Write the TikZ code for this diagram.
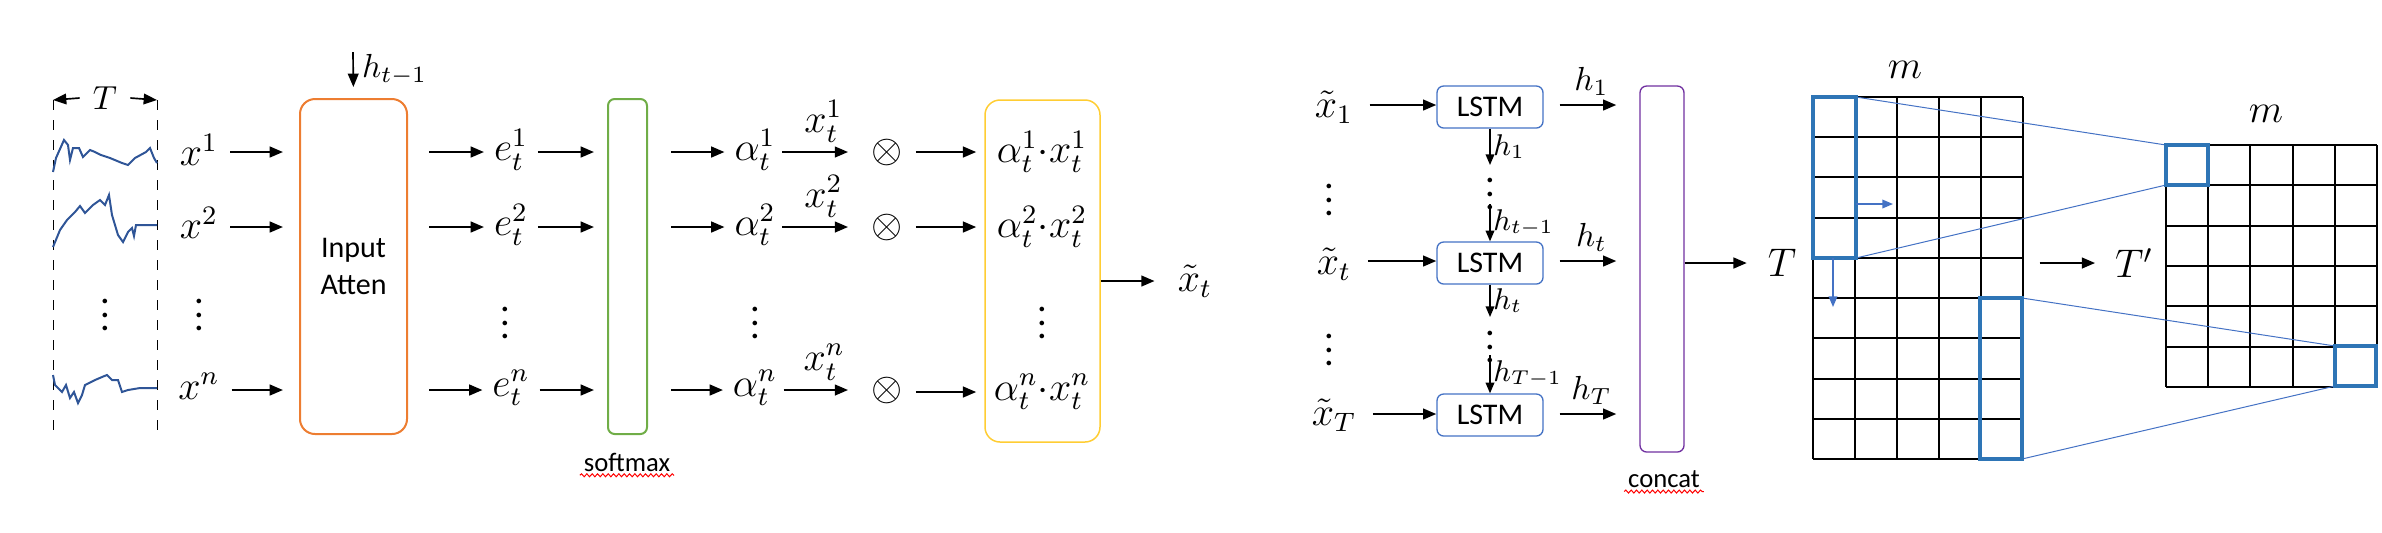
\documentclass[tikz,border=0pt]{standalone}
\usepackage{fontspec}
\setmainfont{Carlito}
\usepackage{amsmath}
\usetikzlibrary{arrows.meta,decorations.pathmorphing}
\definecolor{wave}{HTML}{2F5597}
\definecolor{oran}{HTML}{ED7D31}
\definecolor{grn}{HTML}{70AD47}
\definecolor{yel}{HTML}{FFC000}
\definecolor{blu}{HTML}{4472C4}
\definecolor{hbl}{HTML}{2E75B6}
\definecolor{pur}{HTML}{7030A0}
\begin{document}
\begin{tikzpicture}[x=0.3pt,y=-0.3pt,
  arr/.style={-{Triangle[length=4pt,width=3.2pt]},line width=0.7pt},
  tarr/.style={-{Triangle[length=3.2pt,width=2.6pt]},line width=0.4pt},
  lbl/.style={inner sep=0pt,outer sep=0pt,font=\fontsize{11.5}{14}\selectfont},
  slbl/.style={inner sep=0pt,outer sep=0pt,font=\fontsize{10}{12}\selectfont},
  vlbl/.style={inner sep=0pt,outer sep=0pt,font=\fontsize{9}{11}\selectfont},
  tall/.style={draw,rounded corners=4.5pt,minimum width=#1,minimum height=100.5pt,inner sep=0pt},
  lstm/.style={draw=blu,line width=0.4pt,rounded corners=2pt,minimum width=31.8pt,minimum height=12.6pt,inner sep=0pt,font=\fontsize{9}{10}\selectfont},
  wavy/.style={red,line width=0.3pt,decorate,decoration={snake,amplitude=0.45pt,segment length=1.6pt}},
  grid/.style={line width=0.6pt},
  hl/.style={draw=hbl,line width=1.4pt},
  thin/.style={blu,line width=0.3pt}]
\useasboundingbox (0,0) rectangle (2382,532);
% ---- left: time series
\draw[dashed,line width=0.3pt] (53,100) -- (53,434);
\draw[dashed,line width=0.3pt] (157,100) -- (157,434);
\node[slbl] (T) at (105,98) {$T$};
\coordinate (tl) at (53,100); \coordinate (tr) at (157,100);
\draw[arr,line width=0.5pt] (T.west) ++(-4pt,0) -- (tl);
\draw[arr,line width=0.5pt] (T.east) ++(4pt,0) -- (tr);
\draw[wave,line width=0.6pt] (53,172)--(56,158)--(64,140)--(68,145)--(70,160)--(73,148)--(79,148)--(83,157)--(90,150)--(95,152)--(101,155)--(110,158)--(122,163)--(128,165)--(135,158)--(146,152)--(150,148)--(154,158)--(157,163);
\draw[wave,line width=0.6pt] (53,247)--(60,230)--(67,220)--(75,212)--(80,206)--(85,213)--(93,205)--(100,200)--(105,205)--(109,195)--(112,215)--(118,235)--(123,242)--(128,232)--(132,228)--(134,236)--(136,225)--(157,225);
\draw[wave,line width=0.6pt] (53,375)--(55,385)--(62,392)--(66,385)--(70,398)--(74,392)--(78,403)--(82,395)--(85,385)--(95,380)--(102,377)--(107,375)--(112,380)--(118,380)--(122,392)--(128,390)--(140,388)--(157,388);
\node[lbl] (d0) at (105,305) {$\vdots$};
% x labels
\node[lbl] (x1) at (199,150) {$x^1$};
\node[lbl] (x2) at (199,223) {$x^2$};
\node[lbl] (xd) at (199,305) {$\vdots$};
\node[lbl] (xn) at (199,386) {$x^n$};
\node[tall=32.1pt,draw=oran,line width=0.6pt,font=\fontsize{9}{11}\selectfont,align=center] (ia) at (353.5,266.5) {Input\\Atten};
\coordinate (ht) at (353,52);
\node[slbl,anchor=west] (htl) at (362,70) {$h_{t-1}$};
\draw[arr,line width=0.5pt,shorten >=3.3pt] (ht) -- (ia.north);
\node[tall=11.7pt,draw=grn,line width=0.6pt,rounded corners=2pt] (sm) at (627.5,266.5) {};
\node[font=\fontsize{8}{9}\selectfont,inner sep=1pt] (smt) at (627,462) {softmax};
\draw[wavy] (smt.south west) -- (smt.south east);
\foreach \r/\y/\s in {1/152/1,2/227/2,n/390/n}{
  \draw[arr,shorten <=3.6pt,shorten >=4.8pt] (x\r.east |- 0,\y) -- (ia.west |- 0,\y);
  \node[lbl] (e\r) at (511,\y-2) {$e_t^{\s}$};
  \draw[arr,shorten <=6.3pt,shorten >=3pt] (ia.east |- 0,\y) -- (e\r.west |- 0,\y);
  \draw[arr,shorten <=3pt,shorten >=3.9pt] (e\r.east |- 0,\y) -- (sm.west |- 0,\y);
  \node[lbl] (a\r) at (755,\y-2) {$\alpha_t^{\s}$};
  \draw[arr,shorten <=6.9pt,shorten >=3pt] (sm.east |- 0,\y) -- (a\r.west |- 0,\y);
  \node[lbl] (o\r) at (887,\y) {$\otimes$};
  \draw[arr,shorten <=2pt,shorten >=7pt] (a\r.east |- 0,\y) -- (o\r.west |- 0,\y) node[midway,above=3pt,lbl] {$x_t^{\s}$};
}
\node[tall=34.5pt,draw=yel!80,line width=0.45pt,minimum height=102.6pt] (ax) at (1042.5,271) {};
\foreach \r/\y/\s in {1/152/1,2/227/2,n/392/n}{
  \node[lbl] (p\r) at (1042,\y) {$\alpha_t^{\s}{\cdot}x_t^{\s}$};
  \draw[arr,shorten <=4pt,shorten >=2.4pt] (o\r.east |- 0,\y) -- (ax.west |- 0,\y);
}
\node[lbl] at (755,313) {$\vdots$};
\node[lbl] at (505,313) {$\vdots$};
\node[lbl] at (1042,313) {$\vdots$};
\node[lbl] (xt) at (1195,281) {$\tilde{x}_t$};
\draw[arr] (ax.east |- xt) -- ([xshift=-7pt]xt.west);
% ---- right: LSTM
\node[lstm] (l1) at (1490,107) {LSTM};
\node[lstm] (l2) at (1490,263) {LSTM};
\node[lstm] (l3) at (1490,415) {LSTM};
\node[lbl] (q1) at (1334,107) {$\tilde{x}_1$};
\node[lbl] (q2) at (1334,264) {$\tilde{x}_t$};
\node[lbl] (q3) at (1334,415) {$\tilde{x}_T$};
\node[lbl] at (1329,190) {$\vdots$};
\node[lbl] at (1329,340) {$\vdots$};
\node[tall=13.2pt,draw=pur,line width=0.4pt,rounded corners=2pt,minimum height=109.8pt] (cc) at (1662,269) {};
\node[font=\fontsize{8}{9}\selectfont,inner sep=1pt] (cct) at (1664,479) {concat};
\draw[wavy] (cct.south west) -- (cct.south east);
\foreach \i/\y/\s in {1/105/1,2/261/t,3/414/T}{
  \draw[arr,shorten <=5pt] (q\i.east |- 0,\y) -- (l\i.west |- 0,\y);
  \draw[arr,shorten <=4.8pt,shorten >=6.9pt] (l\i.east |- 0,\y) -- (cc.west |- 0,\y) node[midway,above=3pt,slbl] {$h_{\s}$};
}
\coordinate (v1) at (1490,165); \coordinate (v2) at (1490,204);
\coordinate (v3) at (1490,317); \coordinate (v4) at (1490,355);
\draw[tarr] (l1.south) -- (v1) node[midway,right=1pt,vlbl] {$h_1$};
\node[lbl] at (1490,184) {$\vdots$};
\draw[tarr] (v2) -- (l2.north) node[midway,right=1pt,vlbl] {$h_{t-1}$};
\draw[tarr] (l2.south) -- (v3) node[midway,right=1pt,vlbl] {$h_t$};
\node[lbl] at (1490,337) {$\vdots$};
\draw[tarr] (v4) -- (l3.north) node[midway,right=1pt,vlbl] {$h_{T-1}$};
% ---- big grid
\node[lbl] (Tl) at (1782,263) {$T$};
\draw[arr,shorten >=6.3pt] (cc.east |- Tl) -- (Tl.west);
\node[lbl] (m1) at (1905,70) {$m$};
\foreach \i in {0,...,5} \draw[grid] (1813+42*\i,97) -- (1813+42*\i,459);
\foreach \j in {0,...,9} \draw[grid] (1813,97+40.22*\j) -- (2023,97+40.22*\j);
\node[lbl] (Tp) at (2134,263) {$T'$};
\coordinate (g1) at (2023,263);
\draw[arr,shorten <=5pt] (g1) -- ([xshift=-6pt]Tp.west);
\node[lbl] (m2) at (2266,114) {$m$};
\foreach \i in {0,...,5} \draw[grid] (2166+42.2*\i,145) -- (2166+42.2*\i,387);
\foreach \j in {0,...,6} \draw[grid] (2166,145+40.33*\j) -- (2377,145+40.33*\j);
% highlights
\coordinate (A1) at (1813,97); \coordinate (A2) at (1856,258);
\coordinate (B1) at (1980,298); \coordinate (B2) at (2022,459);
\coordinate (C1) at (2166,145); \coordinate (C2) at (2208,185);
\coordinate (D1) at (2335,346); \coordinate (D2) at (2376,386);
\draw[thin] (A1 -| A2) -- (C1);
\draw[thin] (A2) -- (C1 |- C2);
\draw[thin] (B1 -| B2) -- (D1);
\draw[thin] (B2) -- (D1 |- D2);
\draw[hl] (A1) rectangle (A2);
\draw[hl] (B1) rectangle (B2);
\draw[hl] (C1) rectangle (C2);
\draw[hl] (D1) rectangle (D2);
\coordinate (s1) at (1856,204); \coordinate (s2) at (1893,204);
\coordinate (s3) at (1833,258); \coordinate (s4) at (1833,307);
\draw[tarr,blu] (s1) -- (s2);
\draw[tarr,blu] (s3) -- (s4);
\end{tikzpicture}
\end{document}
